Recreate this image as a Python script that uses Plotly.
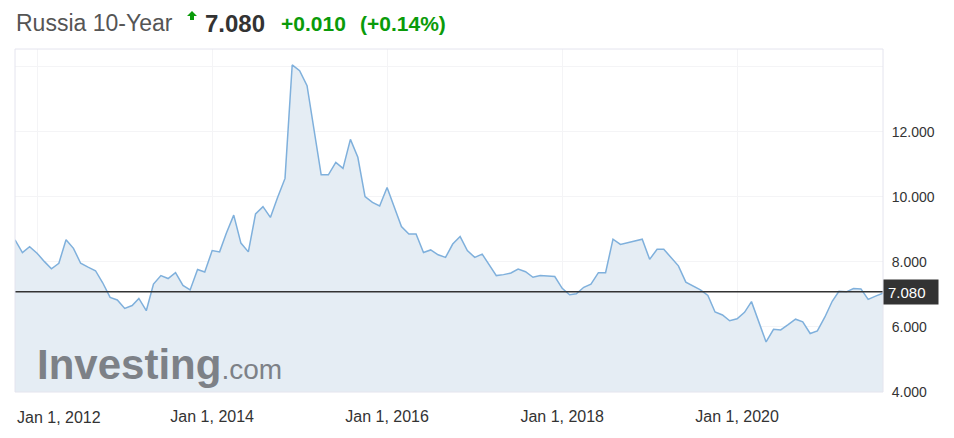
import plotly.graph_objects as go
import pandas as pd

# ---- data (monthly closes) ----
start_month = "2011-10-01"
yields = [
    8.68, 8.29, 8.47,
    8.27, 8.01, 7.79, 7.96, 8.68, 8.42, 7.96, 7.84, 7.73, 7.36, 6.91, 6.83,
    6.57, 6.66, 6.88, 6.50, 7.32, 7.58, 7.49, 7.67, 7.28, 7.14, 7.77, 7.69,
    8.35, 8.31, 8.88, 9.44, 8.58, 8.31, 9.48, 9.70, 9.37, 9.98, 10.57, 14.06,
    13.88, 13.42, 12.16, 10.68, 10.68, 11.06, 10.88, 11.77, 11.22, 10.01, 9.83, 9.72,
    10.29, 9.68, 9.09, 8.86, 8.86, 8.29, 8.37, 8.22, 8.14, 8.55, 8.78, 8.35,
    8.14, 8.24, 7.91, 7.58, 7.61, 7.66, 7.78, 7.70, 7.53, 7.58, 7.57, 7.55,
    7.19, 6.99, 7.02, 7.22, 7.32, 7.67, 7.67, 8.70, 8.54, 8.59, 8.66, 8.70,
    8.08, 8.39, 8.39, 8.14, 7.88, 7.38, 7.26, 7.14, 6.97, 6.46, 6.37, 6.19,
    6.25, 6.45, 6.78, 6.16, 5.54, 5.93, 5.91, 6.07, 6.24, 6.16, 5.80, 5.88,
    6.30, 6.79, 7.10, 7.08, 7.18, 7.17, 6.85, 6.95, 7.04,
]
dates = pd.date_range(start_month, periods=len(yields), freq="MS")

current_value = 7.080
change_abs = "+0.010"
change_pct = "(+0.14%)"
title_name = "Russia 10-Year"

x_tick_vals = ["2012-01-01", "2014-01-01", "2016-01-01", "2018-01-01", "2020-01-01"]
x_tick_text = ["Jan 1, 2012", "Jan 1, 2014", "Jan 1, 2016", "Jan 1, 2018", "Jan 1, 2020"]
y_tick_vals = [4, 6, 8, 10, 12, 14]
y_tick_text = ["4.000", "6.000", "8.000", "10.000", "12.000", ""]

# ---- layout geometry (pixels) ----
OFF = 8                      # page body margin in the browser
W, H = 954 - OFF, 438 - OFF
L, T = 15 - OFF, 49 - OFF
R = W - (883 - OFF)
B = H - (392 - OFF)
PW, PH = W - L - R, H - T - B


def px(xp):
    """screen x pixel -> paper x"""
    return (xp - OFF - L) / PW


def py(yp):
    """screen y pixel -> paper y"""
    return (H - B - (yp - OFF)) / PH


FONT = "Liberation Sans, Arial"

fig = go.Figure()
fig.add_trace(go.Scatter(
    x=dates, y=yields, mode="lines",
    line=dict(color="#7fb0dc", width=1.5),
    fill="tozeroy", fillcolor="#e5edf4",
    hoverinfo="x+y", showlegend=False,
))

# current value horizontal line
fig.add_shape(type="line", xref="paper", yref="y", x0=0, x1=1,
              y0=current_value, y1=current_value,
              line=dict(color="#333333", width=1.5))

# plot frame
fig.add_shape(type="rect", xref="paper", yref="paper", x0=0, x1=1, y0=0, y1=1,
              line=dict(color="#e4e4ee", width=1), layer="above")

annotations = [
    # current value box
    dict(xref="paper", yref="y", x=1, y=current_value, xanchor="left", yanchor="middle",
         text=f"{current_value:.3f}", showarrow=False, bgcolor="#333333",
         width=46, height=16, align="left",
         font=dict(color="white", size=15, family=FONT),
         borderpad=4),
    # first x label (left aligned at plot edge)
    dict(xref="paper", yref="paper", x=px(15), y=py(417), xanchor="left", yanchor="middle",
         text=x_tick_text[0], showarrow=False,
         font=dict(color="#333333", size=16, family=FONT)),
    # title pieces
    dict(xref="paper", yref="paper", x=px(14), y=py(23), xanchor="left", yanchor="middle",
         text=title_name, showarrow=False,
         font=dict(color="#555555", size=23, family=FONT)),
    dict(xref="paper", yref="paper", x=px(203), y=py(23), xanchor="left", yanchor="middle",
         text=f"<b>{current_value:.3f}</b>", showarrow=False,
         font=dict(color="#333333", size=24, family=FONT)),
    dict(xref="paper", yref="paper", x=px(279), y=py(23), xanchor="left", yanchor="middle",
         text=f"<b>{change_abs}</b>", showarrow=False,
         font=dict(color="#0a9b0a", size=21, family=FONT)),
    dict(xref="paper", yref="paper", x=px(358), y=py(23), xanchor="left", yanchor="middle",
         text=f"<b>{change_pct}</b>", showarrow=False,
         font=dict(color="#0a9b0a", size=21, family=FONT)),
    # watermark
    dict(xref="paper", yref="paper", x=px(35), y=py(364), xanchor="left", yanchor="middle",
         text="<b>Investing</b><span style='font-size:28px'>.com</span>", showarrow=False,
         font=dict(color="#7d8187", size=42, family=FONT)),
]

# green up-arrow icon next to the title
ax0, ay0 = 187, 11
arrow_path = (
    f"M {px(ax0 + 5)} {py(ay0)} L {px(ax0 + 10)} {py(ay0 + 5)} L {px(ax0 + 7)} {py(ay0 + 5)} "
    f"L {px(ax0 + 7)} {py(ay0 + 9)} L {px(ax0 + 3)} {py(ay0 + 9)} L {px(ax0 + 3)} {py(ay0 + 5)} "
    f"L {px(ax0)} {py(ay0 + 5)} Z"
)
fig.add_shape(type="path", xref="paper", yref="paper", path=arrow_path,
              fillcolor="#0a9b0a", line=dict(width=0))

fig.update_layout(
    width=W, height=H,
    margin=dict(l=L, r=R, t=T, b=B),
    paper_bgcolor="white", plot_bgcolor="white",
    font=dict(family=FONT, color="#333333", size=13),
    annotations=annotations,
    xaxis=dict(
        type="date", range=[dates[0], dates[-1]],
        tickvals=x_tick_vals, ticktext=[""] + x_tick_text[1:],
        showgrid=True, gridcolor="#f4f4f6", gridwidth=1,
        ticks="outside", ticklen=10, tickcolor="rgba(0,0,0,0)",
        zeroline=False, showline=False,
        tickfont=dict(size=16, color="#333333"),
    ),
    yaxis=dict(
        side="right", range=[4, 14.55],
        tickvals=y_tick_vals, ticktext=y_tick_text,
        showgrid=True, gridcolor="#f4f4f6", gridwidth=1,
        ticks="outside", ticklen=5, tickcolor="rgba(0,0,0,0)",
        zeroline=False, showline=False,
        tickfont=dict(size=14, color="#333333"),
    ),
    hovermode="x",
)

fig.write_html("out.html")
